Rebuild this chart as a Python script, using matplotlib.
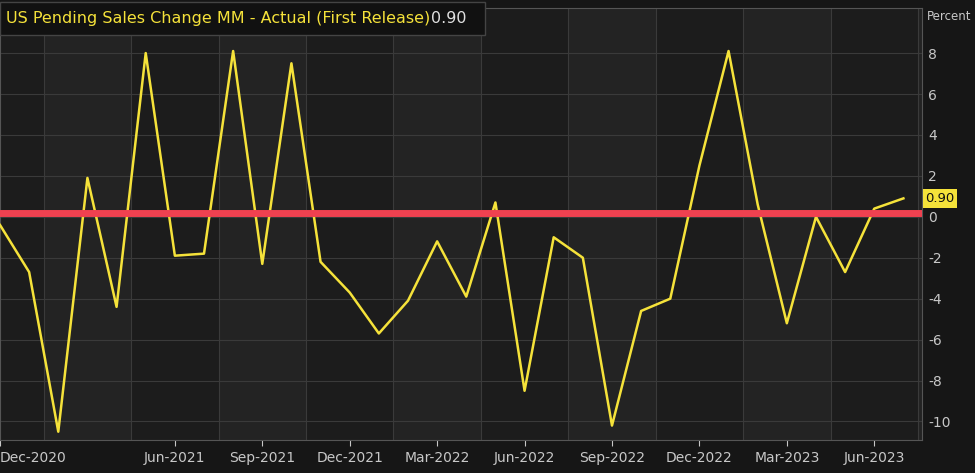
import matplotlib
matplotlib.use("Agg")
import matplotlib.pyplot as plt
import matplotlib.patches as mpatches
import numpy as np

months = list(range(0, 32))  # 0 = Dec-2020 ... 31 = Jul-2023
values = [-0.4, -2.7, -10.5, 1.9, -4.4, 8.0, -1.9, -1.8, 8.1, -2.3, 7.5, -2.2,
          -3.7, -5.7, -4.1, -1.2, -3.9, 0.7, -8.5, -1.0, -2.0, -10.2, -4.6, -4.0,
          2.5, 8.1, 0.6, -5.2, 0.0, -2.7, 0.4, 0.9]
tick_pos = [0, 6, 9, 12, 15, 18, 21, 24, 27, 30]
tick_labels = ["Dec-2020", "Jun-2021", "Sep-2021", "Dec-2021", "Mar-2022", "Jun-2022",
               "Sep-2022", "Dec-2022", "Mar-2023", "Jun-2023"]
ref_level = 0.2
last_value = 0.90

fig = plt.figure(figsize=(9.75, 4.73), dpi=100)
fig.patch.set_facecolor("#161616")
ax = fig.add_axes([0.0, 0.07, 0.946, 0.913])
ax.set_facecolor("#1c1c1c")
ax.set_xlim(0.05, 31.65)
ax.set_ylim(-10.9, 10.2)

edges = np.arange(-4.5, 34, 3)
for i, e in enumerate(edges):
    if i % 2 == 0:
        ax.axvspan(e, e + 3, color="#232323", zorder=0, lw=0)
for e in edges:
    ax.axvline(e, color="#3a3a3a", lw=0.8, zorder=1)
for yv in range(-10, 10, 2):
    ax.axhline(yv, color="#3a3a3a", lw=0.8, zorder=1)

ax.plot(months, values, color="#f5e23a", lw=1.8, zorder=3)
ax.axhline(ref_level, color="#ef4150", lw=5, zorder=4)

ax.yaxis.tick_right()
ax.set_yticks(range(-10, 10, 2))
ax.set_yticklabels([str(v) for v in range(-10, 10, 2)])
ax.set_xticks(tick_pos)
ax.set_xticklabels(tick_labels)
ax.tick_params(axis="y", colors="#c8c8c8", labelsize=10, length=0, pad=4)
ax.tick_params(axis="x", colors="#c8c8c8", labelsize=10, length=4, pad=4)
ax.get_xticklabels()[0].set_horizontalalignment("left")
for s in ax.spines.values():
    s.set_color("#555555")

fig.text(0.951, 0.965, "Percent", color="#c8c8c8", fontsize=8.5, va="center")
ax.text(31.75, last_value, f"{last_value:.2f}", color="#111111", fontsize=9.5,
        va="center", ha="left", zorder=6, clip_on=False,
        bbox=dict(boxstyle="square,pad=0.2", fc="#f5e23a", ec="none"))

box = mpatches.Rectangle((0.0, 0.925), 0.497, 0.07, transform=fig.transFigure,
                         fc="#111111", ec="#444444", lw=1, zorder=5)
fig.patches.append(box)
fig.text(0.006, 0.96, "US Pending Sales Change MM - Actual (First Release)",
         color="#f5e23a", fontsize=11.5, va="center", zorder=6)
fig.text(0.442, 0.96, f"{last_value:.2f}", color="#e0e0e0", fontsize=11.5,
         va="center", zorder=6)

fig.savefig("out.png", dpi=100, facecolor=fig.get_facecolor())
